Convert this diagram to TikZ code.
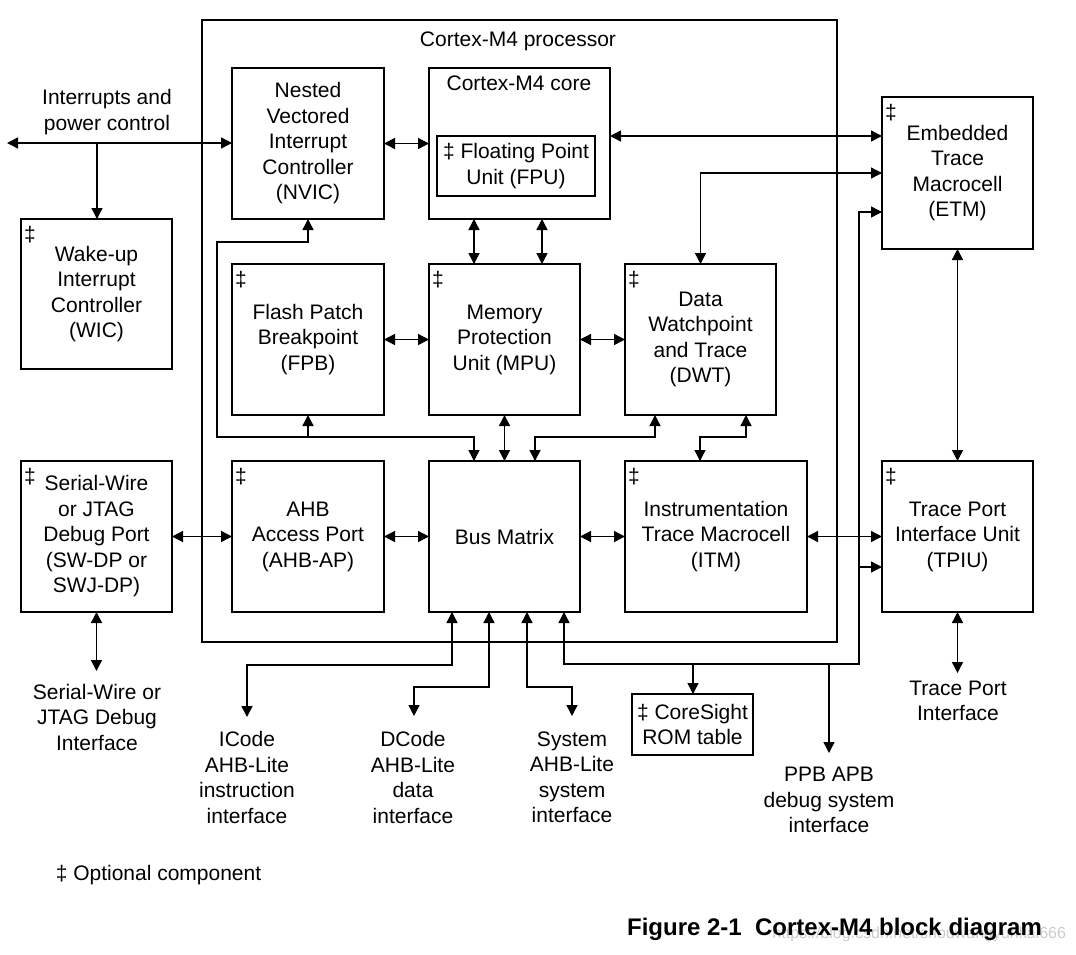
\documentclass[tikz,border=0pt]{standalone}
\usepackage{fontspec}
\setmainfont{Liberation Sans}
\usetikzlibrary{arrows.meta}
\newcommand{\myfs}{\fontsize{21pt}{25.5pt}\selectfont}
\begin{document}
\begin{tikzpicture}[x=1pt,y=-1pt,
  every node/.style={inner sep=0pt, outer sep=0pt, font=\myfs, align=center},
  box/.style={draw, line width=1.4pt, minimum width=151pt, minimum height=151pt},
  conn/.style={line width=1.4pt},
  >={Triangle[length=11pt,width=11pt]}]
\fill[white] (0,0) rectangle (1076,954);
\useasboundingbox (0,0) rectangle (1076,954);

% ---------- boxes ----------
\node[box, minimum width=635pt, minimum height=622pt] (proc) at (519.5,331) {};
\node (proct) at (518,41) {Cortex-M4 processor};
\node[box, minimum width=152pt] (nvic) at (308,143.5) {Nested\\Vectored\\Interrupt\\Controller\\(NVIC)};
\node[box, minimum width=181pt] (core) at (519.5,143.5) {};
\node (coret) at (519,83) {Cortex-M4 core};
\node[box, minimum width=158pt, minimum height=60pt] (fpu) at (516,166) {‡ Floating Point\\Unit (FPU)};
\node[box, minimum height=150pt] (wic) at (96.5,294) {Wake-up\\Interrupt\\Controller\\(WIC)};
\node[box, minimum width=152pt] (fpb) at (308,339.5) {Flash Patch\\Breakpoint\\(FPB)};
\node[box] (mpu) at (504.5,339.5) {Memory\\Protection\\Unit (MPU)};
\node[box] (dwt) at (700.5,339.5) {Data\\Watchpoint\\and Trace\\(DWT)};
\node[box] (swdp) at (96.5,536.5) {Serial-Wire\\or JTAG\\Debug Port\\(SW-DP or\\SWJ-DP)};
\node[box, minimum width=152pt] (ahbap) at (308,536.5) {AHB\\Access Port\\(AHB-AP)};
\node[box] (bus) at (504.5,536.5) {Bus Matrix};
\node[box, minimum width=182pt] (itm) at (716,536.5) {Instrumentation\\Trace Macrocell\\(ITM)};
\node[box, minimum height=152pt] (etm) at (957.5,173) {Embedded\\Trace\\Macrocell\\(ETM)};
\node[box] (tpiu) at (957.5,536.5) {Trace Port\\Interface Unit\\(TPIU)};
\node[box, minimum width=121pt, minimum height=61pt] (rom) at (692.5,724.5) {‡ CoreSight\\ROM table};

\foreach \b in {wic,fpb,mpu,dwt,swdp,ahbap,itm,etm,tpiu}
  \node (dag-\b) at ([shift={(9,16)}]\b.north west) {‡};

% ---------- labels ----------
\node (intlab) at (107,112) {Interrupts and\\power control};
\node (sjlab) at (97,717) {Serial-Wire or\\JTAG Debug\\Interface};
\node (icodelab) at (247,777.5) {ICode\\AHB-Lite\\instruction\\interface};
\node (dcodelab) at (413,777.5) {DCode\\AHB-Lite\\data\\interface};
\node (syslab) at (572,777.5) {System\\AHB-Lite\\system\\interface};
\node (ppblab) at (829,800) {PPB APB\\debug system\\interface};
\node (tpilab) at (958,701) {Trace Port\\Interface};
\node (optlab) at (158.5,875) {‡ Optional component};
\node[text=black!20, font=\fontsize{16pt}{18pt}\selectfont, anchor=east] (wm) at (1066,934) {https://blog.csdn.net/shouwangyunkai666};
\node[font=\bfseries\fontsize{24pt}{28pt}\selectfont] (title) at (834.5,929) {Figure 2-1\ \ Cortex-M4 block diagram};

% ---------- free ends ----------
\coordinate (intl) at (7,143);
\coordinate (intj) at (97,143);
\coordinate (sjend) at (97,671);
\coordinate (icodeend) at (247,717);
\coordinate (dcodeend) at (414,716);
\coordinate (sysend) at (572,716);
\coordinate (ppbend) at (829,753);
\coordinate (tpiend) at (958,673);

% ---------- connectors ----------
\draw[conn,<->] (intl) -- (intl -| nvic.west);
\draw[conn,->] (intj) -- (intj |- wic.north);
\draw[conn,<->] (nvic.east) -- (nvic.east -| core.west);
\draw[conn,<->] (core.east |- 0,136) -- (etm.west |- 0,136);
\draw[conn,<->] (474,0 |- core.south) -- (474,0 |- mpu.north);
\draw[conn,<->] (542,0 |- core.south) -- (542,0 |- mpu.north);
\draw[conn,<->] (fpb.east) -- (mpu.west);
\draw[conn,<->] (mpu.east) -- (dwt.west);
\draw[conn,<->] (dwt.north) |- (etm.west |- 0,173);
\draw[conn,<->] (nvic.south) -- (308,242) -- (217,242) -- (217,437) -- (474,437) -- (474,0 |- bus.north);
\draw[conn,->] (308,437) -- (fpb.south);
\draw[conn,<->] (mpu.south) -- (bus.north);
\draw[conn,<->] (655,0 |- dwt.south) -- (655,437) -- (535,437) -- (535,0 |- bus.north);
\draw[conn,<->] (746,0 |- dwt.south) -- (746,437) -- (700,437) -- (700,0 |- itm.north);
\draw[conn,<->] (swdp.east) -- (ahbap.west);
\draw[conn,<->] (ahbap.east) -- (bus.west);
\draw[conn,<->] (bus.east) -- (itm.west);
\draw[conn,<->] (itm.east) -- (tpiu.west);
\draw[conn,<->] (etm.south) -- (tpiu.north);
\draw[conn,<->] (tpiu.south) -- (tpiu.south |- tpiend);
\draw[conn,<->] (swdp.south) -- (swdp.south |- sjend);
\draw[conn,<->] (452,0 |- bus.south) -- (452,665) -- (247,665) -- (icodeend);
\draw[conn,<->] (489,0 |- bus.south) -- (489,687) -- (414,687) -- (dcodeend);
\draw[conn,<->] (527,0 |- bus.south) -- (527,687) -- (572,687) -- (sysend);
\draw[conn,<->] (564,0 |- bus.south) -- (564,664) -- (859,664) -- (859,212) -- (etm.west |- 0,212);
\draw[conn,->] (859,567) -- (tpiu.west |- 0,567);
\draw[conn,->] (829,664) -- (ppbend);
\draw[conn,->] (693,664) -- (693,0 |- rom.north);
\end{tikzpicture}
\end{document}
